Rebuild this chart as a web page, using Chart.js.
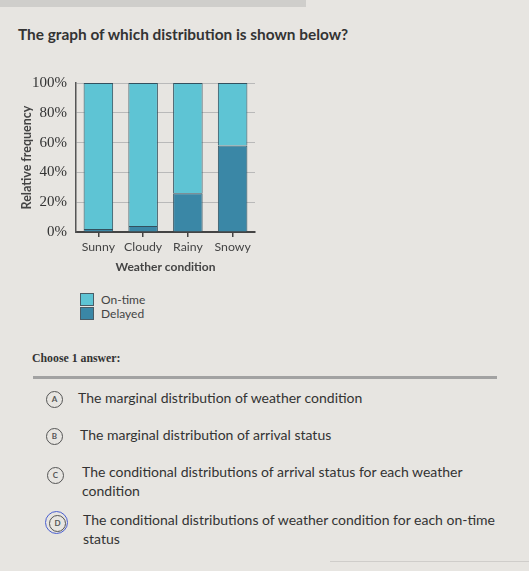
<!DOCTYPE html>
<html>
<head>
<meta charset="utf-8">
<script src="https://cdn.jsdelivr.net/npm/chart.js@4.4.0/dist/chart.umd.min.js"></script>
<style>
  body { margin: 0; width: 529px; height: 571px; background: #e7e5e1; position: relative; overflow: hidden;
         font-family: Lato, "Open Sans", sans-serif; color: #3a3a3a; }
  .band { position: absolute; left: 0; top: 0; width: 306px; height: 7px; background: #cfcecb; }
  .title { position: absolute; left: 18px; top: 25px; font-size: 15.4px; font-weight: bold; color: #333; }
  #chartBox { position: absolute; left: 0; top: 60px; width: 280px; height: 220px; }
  #legend { position: absolute; left: 80px; top: 293px; font-size: 12px; color: #444; }
  #legend div { height: 13.5px; line-height: 13.5px; display: flex; align-items: center; }
  #legend span.sw { width: 12px; height: 11px; border: 1px solid #4a5c66; margin-right: 7px; display: inline-block; }
  .choose { position: absolute; left: 32px; top: 351px; font-family: "Liberation Serif", serif; font-weight: bold; font-size: 11.8px; color: #333; }
  .rule { position: absolute; left: 33px; top: 376px; width: 464px; height: 3px; background: #a2a2a2; }
  .opt { position: absolute; font-size: 14px; color: #333; line-height: 18.5px; }
  .circ { position: absolute; width: 15px; height: 15px; border: 1.3px solid #555; border-radius: 50%;
          font-size: 8px; font-weight: bold; color: #555; text-align: center; line-height: 15px; }
  .ring { position: absolute; width: 21px; height: 21px; border: 1.6px solid #4a5fd0; border-radius: 50%; }
  .bottom { position: absolute; left: 330px; top: 561px; width: 199px; height: 1px; background: #cfcdca; }
</style>
</head>
<body>
<div class="band"></div>
<div class="title">The graph of which distribution is shown below?</div>
<div id="chartBox"><canvas id="myChart"></canvas></div>
<div id="legend"></div>
<div class="choose">Choose 1 answer:</div>
<div class="rule"></div>

<div class="circ" style="left:46px;top:391px">A</div>
<div class="opt" style="left:78px;top:389px">The marginal distribution of weather condition</div>
<div class="circ" style="left:46px;top:428px">B</div>
<div class="opt" style="left:80px;top:426px">The marginal distribution of arrival status</div>
<div class="circ" style="left:47px;top:467px">C</div>
<div class="opt" style="left:82px;top:463px">The conditional distributions of arrival status for each weather<br>condition</div>
<div class="ring" style="left:45px;top:511px"></div>
<div class="circ" style="left:49px;top:515px">D</div>
<div class="opt" style="left:83px;top:511px">The conditional distributions of weather condition for each on-time<br>status</div>
<div class="bottom"></div>

<script>
const conditions = ["Sunny", "Cloudy", "Rainy", "Snowy"];
const delayed = [2, 4, 26, 58];
const onTime = [98, 96, 74, 42];
const yTicks = [0, 20, 40, 60, 80, 100];

const lightBlue = "#5ec4d4";
const darkBlue = "#3a87a6";

let chartDraw = () => {
  const ctx = document.getElementById("myChart").getContext("2d");
  const dataset = {
    labels: conditions,
    datasets: [
      {
        label: "Delayed",
        data: delayed,
        backgroundColor: darkBlue,
        borderColor: "#33505e",
        borderWidth: 1,
        barPercentage: 0.66,
        categoryPercentage: 1,
      },
      {
        label: "On-time",
        data: onTime,
        backgroundColor: lightBlue,
        borderColor: "#33505e",
        borderWidth: 1,
        barPercentage: 0.66,
        categoryPercentage: 1,
      },
    ],
  };
  const config = {
    type: "bar",
    data: dataset,
    options: {
      responsive: true,
      maintainAspectRatio: false,
      animation: false,
      layout: { padding: { left: 15, right: 25, top: 23, bottom: 6 } },
      plugins: { legend: { display: false }, tooltip: { enabled: false } },
      scales: {
        x: {
          stacked: true,
          afterFit: (scale) => { scale.height = 42; },
          grid: { offset: false, drawOnChartArea: false, drawTicks: true, tickLength: 5, color: "#444", lineWidth: 1.5 },
          border: { color: "#444", width: 2 },
          ticks: { color: "#444", padding: 3, font: { family: "Lato", size: 12.3 } },
          title: { display: true, text: "Weather condition", color: "#444", padding: { top: 4, bottom: 0 },
                   font: { family: "Lato", size: 12, weight: "bold" } },
        },
        y: {
          stacked: true,
          min: 0,
          max: 100,
          afterFit: (scale) => { scale.width = 61; },
          afterBuildTicks: (scale) => { scale.ticks = yTicks.map((v) => ({ value: v })); },
          grid: { color: "#b9b9b9", drawTicks: false },
          border: { color: "#555", width: 1.5 },
          ticks: { color: "#333", padding: 9, callback: (v) => v + "%",
                   font: { family: "Liberation Serif", size: 15 } },
          title: { display: true, text: "Relative frequency", color: "#444",
                   font: { family: "Lato", size: 12.5, weight: "bold" } },
        },
      },
    },
  };
  const chart = new Chart(ctx, config);

  // legend: On-time on top, Delayed below
  let legendHTML = document.getElementById("legend");
  [dataset.datasets[1], dataset.datasets[0]].forEach((ds) => {
    legendHTML.innerHTML +=
      '<div><span class="sw" style="background:' + ds.backgroundColor + '"></span>' + ds.label + "</div>";
  });
};

chartDraw();
</script>
</body>
</html>
